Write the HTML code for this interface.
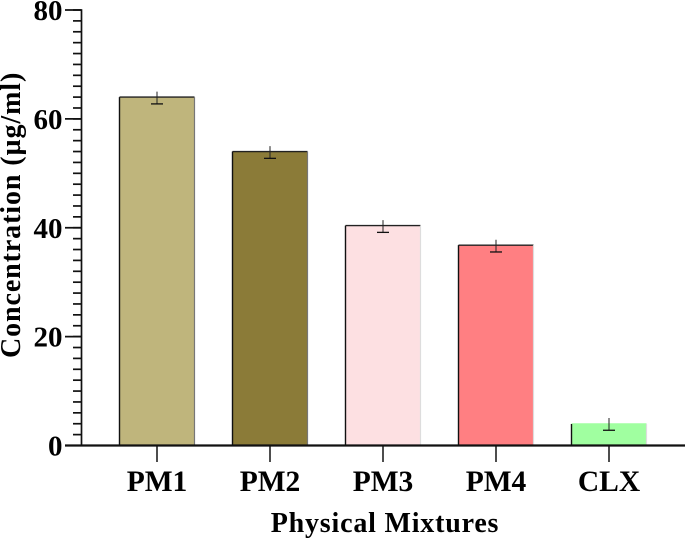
<!DOCTYPE html>
<html>
<head>
<meta charset="utf-8">
<style>
html,body{margin:0;padding:0;background:#fff;width:685px;height:539px;overflow:hidden}
svg{display:block;filter:blur(0.35px)}
text{font-family:"Liberation Serif",serif;font-weight:bold;fill:#000}
</style>
</head>
<body>
<svg id="chart" width="685" height="539" viewBox="0 0 685 539" xmlns="http://www.w3.org/2000/svg">
<text transform="translate(20,358) rotate(-90)" font-size="28" letter-spacing="0.9">Concentration (µg/ml)</text>
<text x="385" y="532" font-size="28" text-anchor="middle" letter-spacing="0.8">Physical Mixtures</text>
</svg>
<script>
const categories = ['PM1', 'PM2', 'PM3', 'PM4', 'CLX'];
const values = [64, 54, 40.4, 36.8, 3.95];
const errorsUp = [1, 1, 1, 1, 1.1];
const errorsDown = [1.25, 1.25, 1.25, 1.25, 1.15];
const fills = ['#bfb57c', '#8b7b38', '#fde0e2', '#ff7f82', '#a0ffa0'];
const yTickLabels = [0, 20, 40, 60, 80];
const yMinorStep = 2;

const NS = 'http://www.w3.org/2000/svg';
const svg = document.getElementById('chart');
const y0 = 445.5, yTop = 10, yMax = 80;
const x0 = 157, xStep = 113, barW = 75;
const axisX = 81.5;
const yScale = function (v) { return y0 - (v / yMax) * (y0 - yTop); };
const xScale = function (i) { return x0 + i * xStep; };

function make(tag, attrs) {
  const el = document.createElementNS(NS, tag);
  Object.keys(attrs).forEach(function (k) { el.setAttribute(k, attrs[k]); });
  svg.appendChild(el);
  return el;
}

categories.forEach(function (cat, i) {
  const cx = xScale(i);
  const top = yScale(values[i]);
  const rect = make('rect', { x: cx - barW / 2, y: top, width: barW, height: y0 - top, fill: fills[i] });
  
  

  const topEdge = make('line', { x1: cx - barW / 2, x2: cx + barW / 2, y1: top, y2: top, stroke: i === 4 ? '#a0ffa0' : '#222', 'stroke-width': 1.4 });
  
  

  const leftEdge = make('line', { x1: cx - barW / 2, x2: cx - barW / 2, y1: top, y2: y0, stroke: '#111', 'stroke-width': 1.4 });
  
  

  const rightEdge = make('line', { x1: cx + barW / 2, x2: cx + barW / 2, y1: top, y2: y0, stroke: i < 2 ? '#777' : '#ddd', 'stroke-width': 1.2 });
  
  

  const stem = make('line', { x1: cx, x2: cx, y1: yScale(values[i] + errorsUp[i]), y2: yScale(values[i] - errorsDown[i]), stroke: '#222', 'stroke-width': 1 });
  
  

  const cap = make('line', { x1: cx - 6, x2: cx + 6, y1: yScale(values[i] - errorsDown[i]), y2: yScale(values[i] - errorsDown[i]), stroke: '#111', 'stroke-width': 1.3 });
  
  

  const tick = make('line', { x1: cx, x2: cx, y1: y0, y2: 462, stroke: '#222', 'stroke-width': 1.6 });
  
  

  const label = make('text', { x: cx, y: 491, 'font-size': 29.5, 'text-anchor': 'middle' });
  label.textContent = cat;
  
  
});

for (let v = 0; v <= yMax; v += yMinorStep) {
  const minor = make('line', { x1: 73, x2: axisX, y1: yScale(v), y2: yScale(v), stroke: '#111', 'stroke-width': 1.7 });
  
  
}

yTickLabels.forEach(function (v) {
  const major = make('line', { x1: 65, x2: axisX, y1: yScale(v), y2: yScale(v), stroke: '#111', 'stroke-width': 1.7 });
  
  

  const label = make('text', { x: 62.5, y: yScale(v) + 10, 'font-size': 29, 'text-anchor': 'end' });
  label.textContent = String(v);
  
  
});

const yAxis = make('line', { x1: axisX, x2: axisX, y1: yTop - 0.8, y2: y0 + 1, stroke: '#111', 'stroke-width': 1.7 });



const xAxis = make('line', { x1: 65, x2: 685, y1: y0, y2: y0, stroke: '#111', 'stroke-width': 2.2 });


</script>
</body>
</html>
